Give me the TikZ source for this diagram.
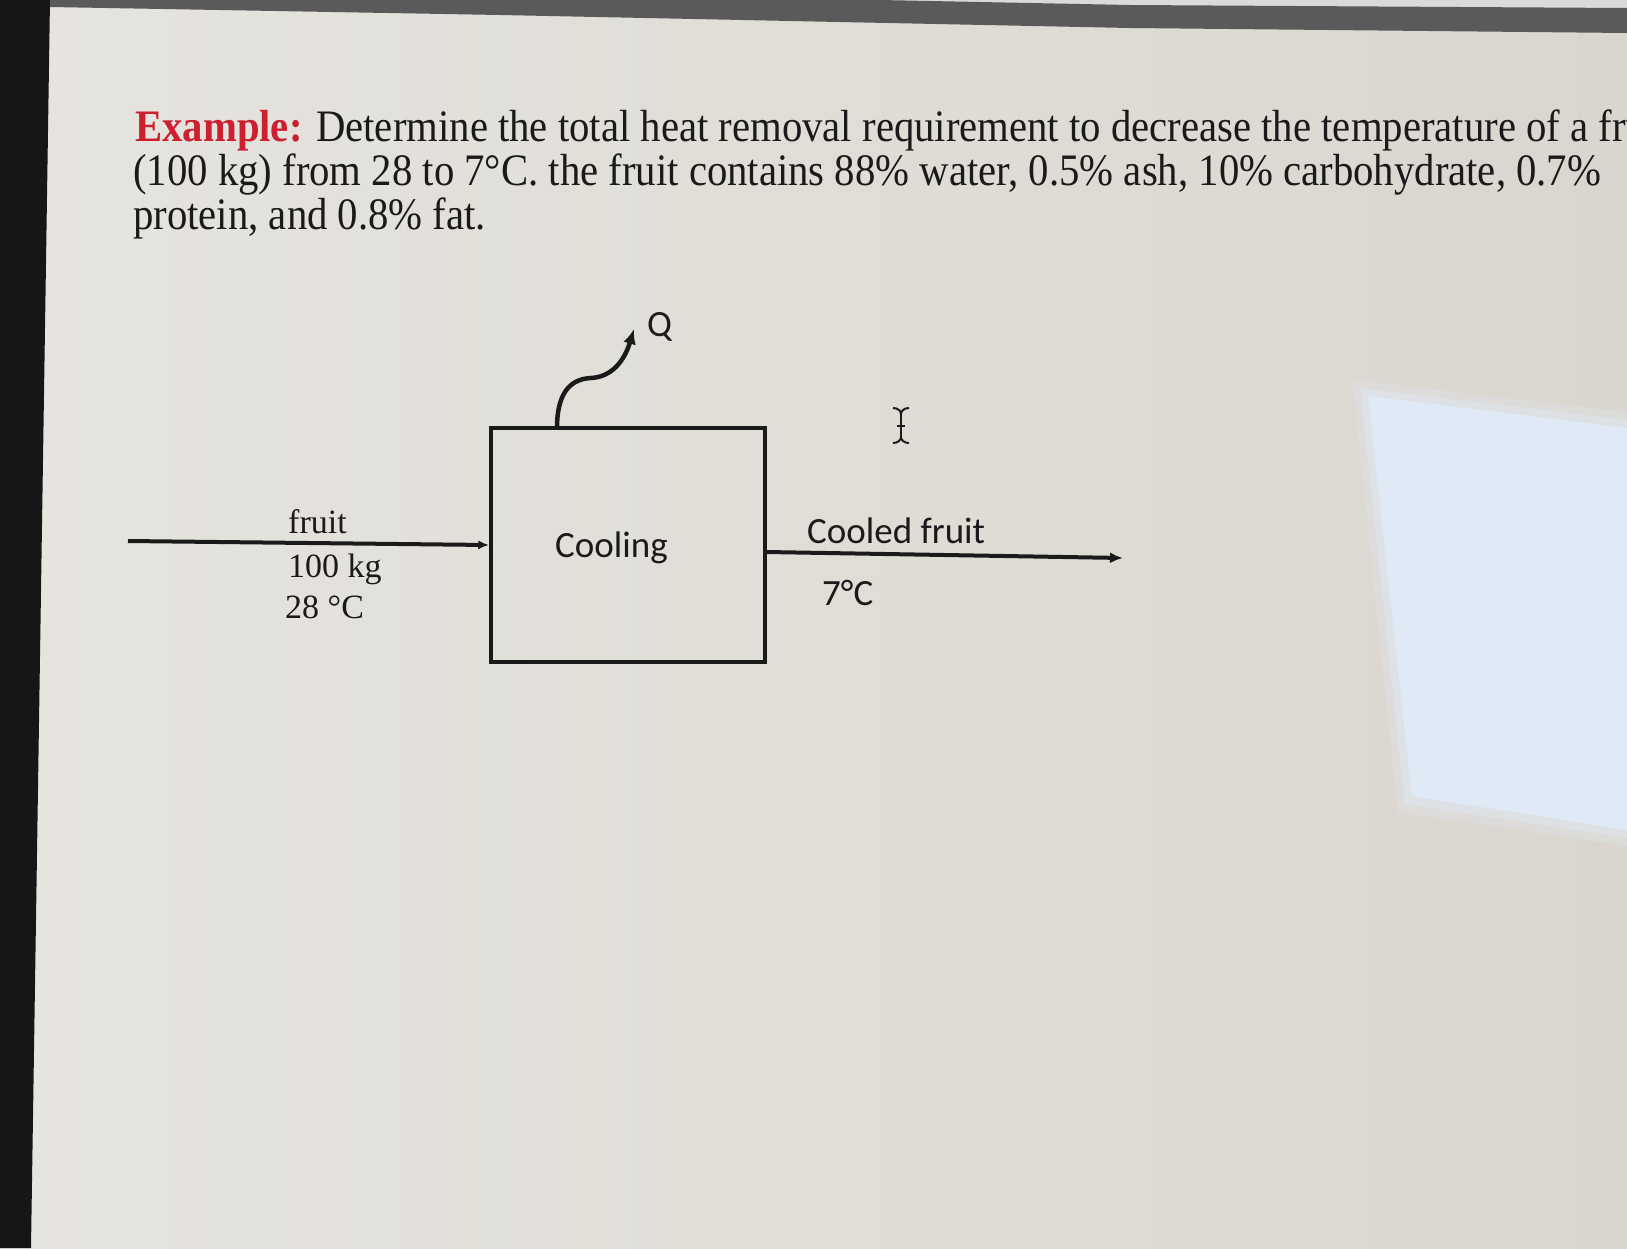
\documentclass[tikz,border=0pt]{standalone}
\usepackage{fontspec}
\setmainfont{Liberation Serif}
\newfontfamily\titlefont[FakeStretch=0.905]{Liberation Serif}
\newfontfamily\calfont{Carlito}
\usetikzlibrary{arrows.meta}
\definecolor{bgleft}{HTML}{E6E4DF}
\definecolor{bgright}{HTML}{DAD6CF}
\definecolor{edgedark}{HTML}{161616}
\definecolor{bandgray}{HTML}{5A5A5A}
\definecolor{toplight}{HTML}{DADADA}
\definecolor{glareblue}{HTML}{E0EAF6}
\definecolor{ink}{HTML}{1A1A1A}
\definecolor{exred}{HTML}{CC1F30}
\tikzset{
  titleline/.style={anchor=base west, inner sep=0pt, text=ink, font=\titlefont\fontsize{45}{45}\selectfont},
  serlabel/.style={anchor=base west, inner sep=0pt, text=ink, font=\fontsize{34}{34}\selectfont},
  callabel/.style={anchor=base west, inner sep=0pt, text=ink, font=\calfont\fontsize{37}{37}\selectfont},
  procbox/.style={draw=ink, line width=3.5pt, minimum width=274pt, minimum height=234pt, inner sep=0pt},
  flow/.style={draw=ink, line width=4pt},
}
\begin{document}
\begin{tikzpicture}[x=1pt,y=-1pt]
\useasboundingbox (0,0) rectangle (1627,1248);
\clip (0,0) rectangle (1627,1248);
% background
\shade[left color=bgleft, right color=bgright] (0,0) rectangle (1627,1248);
% glare (soft edges by layering)
\fill[glareblue, opacity=0.25] (1352,380) -- (1627,412) -- (1627,846) -- (1398,812) -- cycle;
\fill[glareblue, opacity=0.4] (1360,388) -- (1627,420) -- (1627,838) -- (1405,804) -- cycle;
\fill[glareblue] (1368,396) -- (1627,428) -- (1627,830) -- (1412,796) -- cycle;
% top band and left edge
\fill[toplight] (880,0) -- (1627,0) -- (1627,8) -- (1130,5) -- cycle;
\fill[bandgray] (0,0) -- (880,0) -- (1130,5) -- (1627,8) -- (1627,33) -- (1130,28) -- (500,15) -- (50,7) -- cycle;
\fill[edgedark] (0,0) -- (50,0) -- (31,1248) -- (0,1248) -- cycle;

% title
\node[titleline] (t1) at (135,141) {\textcolor{exred}{\textbf{Example:}} Determine the total heat removal requirement to decrease the temperature of a fruit};
\node[titleline] (t2) at (133,185) {(100 kg) from 28 to 7°C. the fruit contains 88\% water, 0.5\% ash, 10\% carbohydrate, 0.7\%};
\node[titleline] (t3) at (133,229) {protein, and 0.8\% fat.};

% diagram
\node[procbox] (cool) at (628,545) {};
\node[callabel] (coollab) at (555,557) {Cooling};

\coordinate (inStart) at (128,541);
\draw[flow, -{Latex[length=11pt,width=9pt]}] (inStart) -- (cool.west);
\node[serlabel] (fruitlab) at (288,533) {fruit};
\node[serlabel] (masslab) at (288,577) {100 kg};
\node[serlabel] (tinlab) at (285,618) {28 °C};

\coordinate (outEnd) at (1123,558);
\draw[flow, -{Latex[length=13pt,width=11pt]}] ([yshift=-7pt]cool.east) -- (outEnd);
\node[callabel] (outlab) at (807,543) {Cooled fruit};
\node[callabel] (toutlab) at (822,605) {7°C};

\coordinate (qStart) at (557,428);
\coordinate (qEnd) at (634,329);
\draw[draw=ink, line width=4.5pt, -{Latex[length=15pt,width=13pt]}] (qStart) .. controls (557,396) and (568,379) .. (591,378) .. controls (611,377) and (624,362) .. (qEnd);
\node[callabel] (qlab) at (647,336) {Q};

% text cursor
\draw[ink, line width=2pt] (893,408) .. controls (898,408) and (901,411) .. (901,414) .. controls (901,411) and (904,408) .. (909,408);
\draw[ink, line width=2pt] (893,443) .. controls (898,443) and (901,440) .. (901,437) .. controls (901,440) and (904,443) .. (909,443);
\draw[ink, line width=2pt] (901,413) -- (901,438);
\draw[ink, line width=1.5pt] (897,426) -- (905,426);
\end{tikzpicture}
\end{document}
